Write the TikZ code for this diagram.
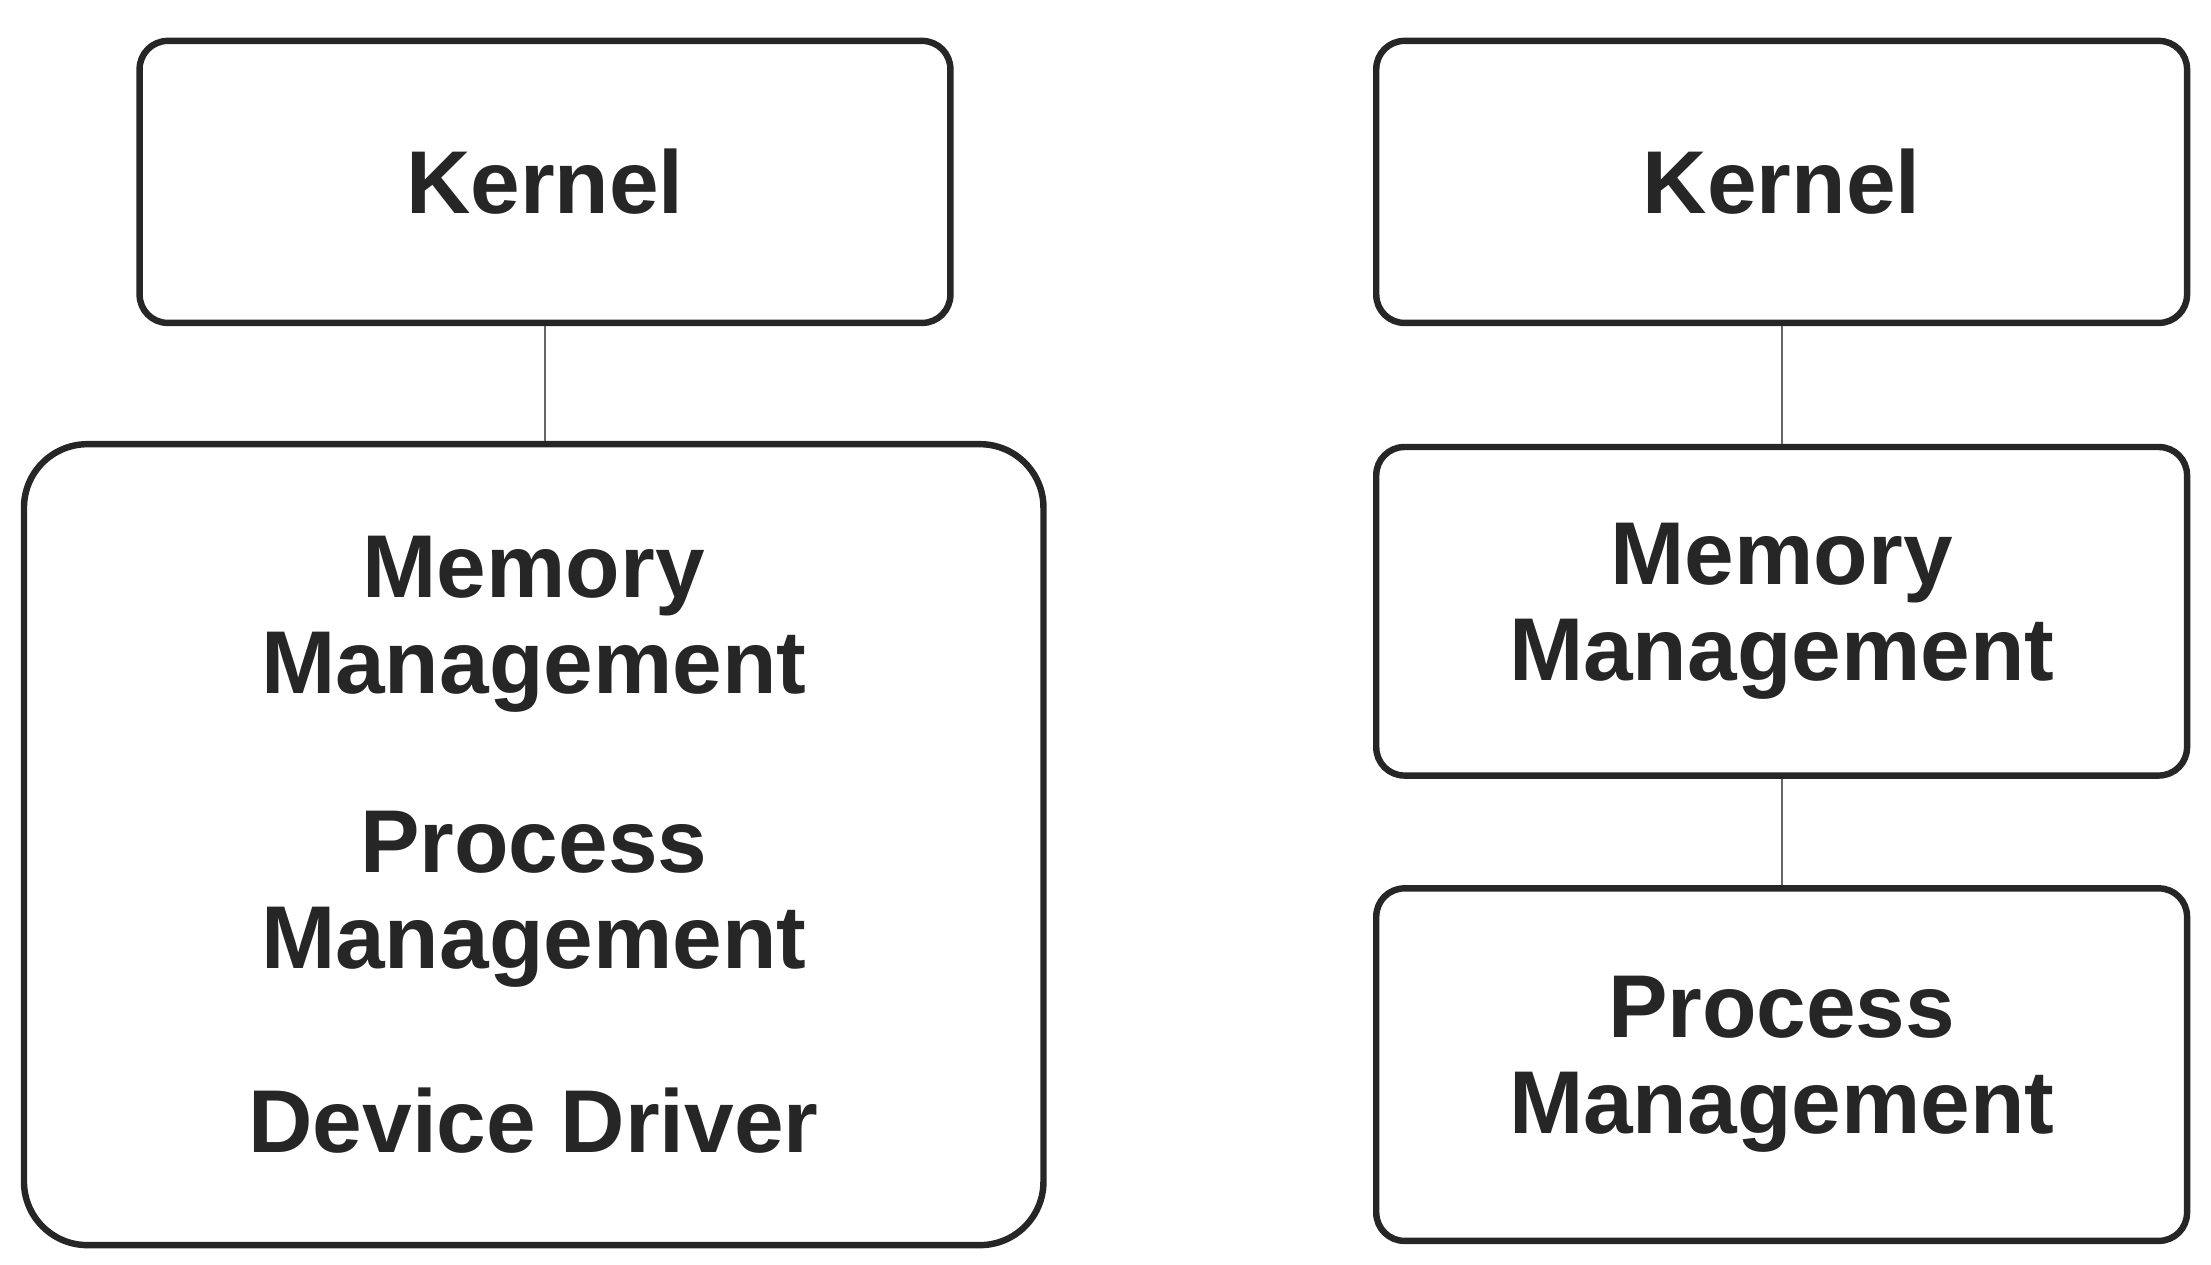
\documentclass[tikz,border=0pt]{standalone}
\usepackage{fontspec}
\setmainfont{Liberation Sans}
\usetikzlibrary{positioning}

\begin{document}
\begin{tikzpicture}[
        box/.style={rectangle, draw=black!85, line width=1.3pt, rounded corners=0.2cm, minimum width=5.75cm, align=center, font=\fontsize{18}{19.4}\selectfont\bfseries, text=black!85},
        link/.style={draw=black!60, line width=0.4pt}
    ]
        \useasboundingbox (0,0) rectangle (15.68,8.97);
        % Left column
        \node[box, minimum height=2cm] (kernelA) at (3.865,7.68) {Kernel};
        \node[box, minimum width=7.23cm, minimum height=5.68cm, rounded corners=0.45cm] (modules) at (3.785,2.98)
            {Memory\\Management\\[0.59cm]Process\\Management\\[0.62cm]Device Driver};
        % Right column
        \node[box, minimum height=2cm] (kernelB) at (12.635,7.68) {Kernel};
        \node[box, minimum height=2.33cm] (memory) at (12.635,4.635) {Memory\\Management};
        \node[box, minimum height=2.5cm] (process) at (12.635,1.42) {Process\\Management};

        % Connectors
        \draw[link] (kernelA.south) -- (kernelA.south |- modules.north);
        \draw[link] (kernelB) -- (memory);
        \draw[link] (memory) -- (process);
    \end{tikzpicture}
\end{document}
